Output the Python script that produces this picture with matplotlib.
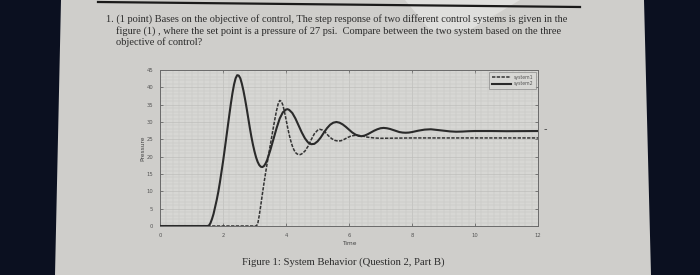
import matplotlib
matplotlib.use("Agg")
import matplotlib.pyplot as plt
from matplotlib.patches import Polygon
from matplotlib.lines import Line2D
from matplotlib.ticker import MultipleLocator

# ---- data ----
t_sys2 = [0, 1.50, 1.55, 1.60, 1.65, 1.70, 1.75, 1.80, 1.85, 1.90, 1.95, 2.00, 2.05, 2.10,
          2.15, 2.20, 2.25, 2.30, 2.35, 2.40, 2.45, 2.50, 2.55, 2.60, 2.65, 2.70, 2.75,
          2.80, 2.85, 2.90, 2.95, 3.00, 3.05, 3.10, 3.15, 3.20, 3.25, 3.30, 3.35, 3.40,
          3.50, 3.60, 3.70, 3.80, 3.90, 4.00, 4.05, 4.10, 4.20, 4.30, 4.40, 4.50, 4.60,
          4.70, 4.80, 4.90, 5.00, 5.10, 5.20, 5.30, 5.40, 5.50, 5.60, 5.70, 5.80, 5.90,
          6.00, 6.10, 6.20, 6.30, 6.40, 6.50, 6.60, 6.70, 6.80, 6.90, 7.00, 7.10, 7.20,
          7.30, 7.40, 7.50, 7.60, 7.70, 7.80, 7.90, 8.00, 8.20, 8.40, 8.60, 8.80, 9.00,
          9.20, 9.40, 9.60, 9.80, 10.0, 10.5, 11.0, 12.0]
y_sys2 = [0, 0, 0.1, 0.8, 2.0, 3.5, 5.5, 7.5, 9.8, 12.5, 15.5, 18.5, 21.8, 25.2,
          28.6, 32.0, 35.3, 38.3, 40.8, 42.6, 43.5, 43.4, 42.6, 41.0, 39.0, 36.6, 34.0,
          31.2, 28.4, 25.8, 23.5, 21.5, 19.8, 18.5, 17.6, 17.1, 17.0, 17.3, 18.0, 19.0,
          21.8, 25.0, 28.2, 31.0, 32.8, 33.6, 33.7, 33.5, 32.6, 31.0, 29.0, 27.0, 25.3,
          24.1, 23.6, 23.7, 24.4, 25.5, 26.9, 28.2, 29.2, 29.8, 30.0, 29.8, 29.3, 28.6,
          27.8, 27.0, 26.4, 26.0, 25.9, 26.1, 26.5, 27.0, 27.5, 27.9, 28.2, 28.3, 28.2,
          28.0, 27.7, 27.4, 27.1, 26.95, 26.9, 26.95, 27.1, 27.5, 27.8, 27.9, 27.7, 27.5,
          27.3, 27.2, 27.25, 27.35, 27.4, 27.4, 27.35, 27.4]

t_sys1 = [0, 3.05, 3.10, 3.15, 3.20, 3.25, 3.30, 3.35, 3.40, 3.45, 3.50, 3.55, 3.60,
          3.65, 3.70, 3.75, 3.80, 3.85, 3.90, 3.95, 4.00, 4.05, 4.10, 4.15, 4.20, 4.25,
          4.30, 4.35, 4.40, 4.45, 4.50, 4.60, 4.70, 4.80, 4.90, 5.00, 5.07, 5.15, 5.25,
          5.35, 5.45, 5.55, 5.65, 5.75, 5.85, 5.95, 6.05, 6.15, 6.25, 6.35, 6.45, 6.60,
          6.80, 7.00, 7.50, 8.00, 9.00, 10.0, 12.0]
y_sys1 = [0, 0, 0.5, 3.0, 6.0, 9.2, 12.3, 15.2, 18.0, 20.7, 23.3, 25.9, 28.5,
          31.0, 33.3, 35.2, 36.2, 36.0, 34.9, 33.0, 30.8, 28.5, 26.4, 24.6, 23.1, 22.0,
          21.2, 20.8, 20.6, 20.6, 20.8, 21.6, 23.0, 24.9, 26.6, 27.6, 27.9, 27.7, 27.0,
          26.0, 25.2, 24.7, 24.5, 24.6, 25.0, 25.5, 25.9, 26.1, 26.2, 26.1, 25.9, 25.6,
          25.4, 25.3, 25.35, 25.4, 25.4, 25.4, 25.4]

series_labels = ["system1", "system2"]
x_ticks = [0, 2, 4, 6, 8, 10, 12]
y_ticks = [0, 5, 10, 15, 20, 25, 30, 35, 40, 45]
x_label = "Time"
y_label = "Pressure"
question = ["1. (1 point) Bases on the objective of control, The step response of two different control systems is given in the",
            "figure (1) , where the set point is a pressure of 27 psi.  Compare between the two system based on the three",
            "objective of control?"]
caption = "Figure 1: System Behavior (Question 2, Part B)"

paper = "#cfcecb"
ink = "#2b2b2b"

fig = plt.figure(figsize=(7, 2.75), dpi=100)
fig.patch.set_facecolor(paper)

# dark surroundings of the photographed page
W, H = 700.0, 275.0
def fp(pts):
    return [(x / W, 1 - y / H) for x, y in pts]
fig.patches.append(Polygon(fp([(0, 0), (61, 0), (55, 275), (0, 275)]), closed=True,
                           transform=fig.transFigure, facecolor="#0b1020", edgecolor="none", zorder=0))
fig.patches.append(Polygon(fp([(644, 0), (700, 0), (700, 275), (651, 275)]), closed=True,
                           transform=fig.transFigure, facecolor="#0b1020", edgecolor="none", zorder=0))
# glare
fig.patches.append(Polygon(fp([(405, 0), (520, 0), (470, 30), (430, 30)]), closed=True,
                           transform=fig.transFigure, facecolor="white", alpha=0.35, edgecolor="none", zorder=0))
# top rule
fig.lines.append(Line2D([98 / W, 580 / W], [1 - 2.0 / H, 1 - 7.0 / H], transform=fig.transFigure,
                        color="#1a1a1a", lw=1.6))

# question text (first line, then the hanging-indented continuation as one block)
fig.text(106 / W, 1 - 19 / H, question[0], fontsize=7.5, family="Liberation Serif", color=ink,
         ha="left", va="center")
fig.text(116 / W, 1 - 36.5 / H, question[1] + "\n" + question[2], fontsize=7.5,
         family="Liberation Serif", color=ink, ha="left", va="center", linespacing=1.15)
fig.text(343 / W, 1 - 262 / H, caption, fontsize=7.7, family="Liberation Serif", color=ink,
         ha="center", va="center")

# axes
ax = fig.add_axes([160 / W, 1 - 226 / H, 378 / W, 156 / H])
ax.set_facecolor("#d7d7d4")
ax.plot(t_sys1, y_sys1, color="#333333", lw=1.1, ls=(0, (2.2, 0.9)), label=series_labels[0], zorder=3)
ax.plot(t_sys2, y_sys2, color="#2a2a2a", lw=1.5, ls="-", label=series_labels[1], zorder=4)

ax.set_xlim(0, 12)
ax.set_ylim(0, 45)
ax.set_xticks(x_ticks)
ax.set_yticks(y_ticks)
ax.xaxis.set_minor_locator(MultipleLocator(0.2))
ax.yaxis.set_minor_locator(MultipleLocator(1))
ax.grid(which="minor", color="#c6c6c3", lw=0.35)
ax.grid(which="major", color="#bdbdba", lw=0.45)
ax.set_axisbelow(True)
ax.tick_params(which="major", direction="in", length=2.5, width=0.5, labelsize=3.8,
               colors="#555555", top=True, right=True, pad=5)
ax.tick_params(which="minor", length=0)
for s in ax.spines.values():
    s.set_color("#6a6a6a")
    s.set_linewidth(0.7)
ax.set_xlabel(x_label, fontsize=4.2, color="#444444", labelpad=2)
ax.set_ylabel(y_label, fontsize=4.2, color="#444444", labelpad=1)

leg = ax.legend(loc="upper right", fontsize=3.3, handlelength=4.2, frameon=True,
                borderaxespad=0.4, labelspacing=0.35, fancybox=False, borderpad=0.6,
                handletextpad=0.5)
leg.get_frame().set_edgecolor("#777777")
leg.get_frame().set_linewidth(0.5)
leg.get_frame().set_facecolor("#d9d9d6")
for txt in leg.get_texts():
    txt.set_color("#555555")

# small dash to the right of the axes at the set-point level
ax.annotate("-", xy=(1.0, 28), xycoords=("axes fraction", "data"), xytext=(5.5, 0),
            textcoords="offset points", fontsize=7, color="#444444", va="center", ha="center",
            annotation_clip=False)

fig.savefig("out.png", dpi=100, facecolor=fig.get_facecolor())
